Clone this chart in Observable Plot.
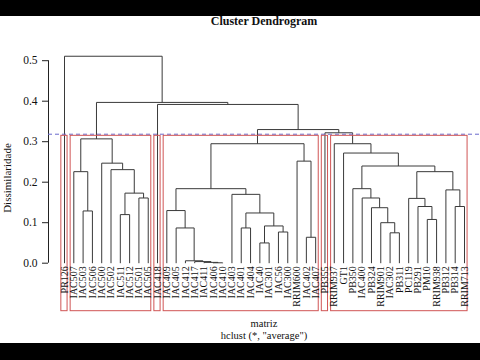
<!DOCTYPE html>
<html>
<head>
<meta charset="utf-8">
<script src="https://cdn.jsdelivr.net/npm/d3@7"></script>
<script src="https://cdn.jsdelivr.net/npm/@observablehq/plot@0.6"></script>
<style>
  html, body { margin: 0; padding: 0; background: #fff; }
  #wrap { position: relative; width: 480px; height: 360px; overflow: hidden; background: #fff; font-family: "Liberation Serif", "DejaVu Serif", serif; color: #111; }
  #chart { position: absolute; left: 0; top: 0; }
  .t { position: absolute; white-space: nowrap; line-height: 1; }
  .bar { position: absolute; left: 0; width: 480px; background: #000; }
</style>
</head>
<body>
<div id="wrap">
  <div id="chart"></div>
  <div class="t" style="left:164px;width:200px;text-align:center;top:15px;font-size:12px;font-weight:bold;">Cluster Dendrogram</div>
  <div class="t" style="left:164px;width:200px;text-align:center;top:319px;font-size:10.5px;">matriz</div>
  <div class="t" style="left:164px;width:200px;text-align:center;top:330.5px;font-size:10.5px;">hclust (*, "average")</div>
  <div class="t" style="left:6.5px;top:178px;font-size:11px;transform:translate(-50%,-50%) rotate(-90deg);">Dissimilaridade</div>
  <div class="bar" style="top:0;height:16px;"></div>
  <div class="bar" style="top:343px;height:17px;"></div>
</div>
<script>
// Leaf labels in dendrogram order
const leaves = ["PR126","IAC507","IAC503","IAC506","IAC500","IAC502","IAC511","IAC512","IAC501","IAC505",
  "IAC418","IAC409","IAC405","IAC412","IAC417","IAC411","IAC406","IAC410","IAC403","IAC401",
  "IAC404","IAC40","IAC301","IAC56","IAC300","RRIM600","IAC402","IAC407","PB355","RRIM937",
  "GT1","PB350","IAC400","PB324","RRIM901","IAC302","PB311","PC119","PB291","PM10",
  "RRIM938","PB312","PB314","RRIM713"];

// Merge table (R hclust style): negative = leaf index (1-based), positive = earlier merge row (1-based)
const mergeLeft  = [-17,-16,-15,-14,-22,-27,-36,-24,-13,-20, 5,-35,-40,-7, 10,-3,-12,-34,-39,-43,-38,-33,-9,-19,14,-42,-32,17,-2, 21,-6, 27,-5,-26,-31,28,-30,29,-29,36,-11,38,-1];
const mergeRight = [-18,  1,  2,  3,-23,-28,-37,-25,  4,-21, 8,  7,-41,-8,11,-4,  9, 12, 13,-44, 19, 18,-10,15,23, 20, 22,24,16, 26,25, 30,31,  6, 32,34, 35,33, 37,39, 40,41,42];
const mergeHeight = [0.001,0.002,0.004,0.006,0.050,0.064,0.075,0.077,0.087,0.087,
  0.092,0.100,0.108,0.120,0.124,0.129,0.130,0.137,0.140,0.140,
  0.160,0.161,0.161,0.170,0.173,0.181,0.184,0.184,0.226,0.226,
  0.231,0.240,0.247,0.252,0.272,0.295,0.295,0.307,0.322,0.330,
  0.392,0.397,0.511];

const yTicks = [0, 0.1, 0.2, 0.3, 0.4, 0.5];
const cutK = 6;          // rect.hclust(k = 6)
const cutLine = 0.3185;  // abline(h = ...)

// ---- layout (R plot.hclust conventions) ----
const n = leaves.length;
const usrLeft = 1 - 0.04 * (n - 1), usrRight = n + 0.04 * (n - 1);
const usrBottom = -0.1185;
const nodeX = [], lo = [], hi = [];
const segs = [];
function info(ref) {
  if (ref < 0) return {x: -ref, h: 0, lo: -ref, hi: -ref};
  const i = ref - 1;
  return {x: nodeX[i], h: mergeHeight[i], lo: lo[i], hi: hi[i]};
}
mergeHeight.forEach((h, i) => {
  const L = info(mergeLeft[i]), R = info(mergeRight[i]);
  nodeX[i] = (L.x + R.x) / 2; lo[i] = L.lo; hi[i] = R.hi;
  segs.push({x1: L.x, y1: L.h, x2: L.x, y2: h});
  segs.push({x1: L.x, y1: h, x2: R.x, y2: h});
  segs.push({x1: R.x, y1: R.h, x2: R.x, y2: h});
});
// clusters for k groups
const sortedDesc = [...mergeHeight].sort((a, b) => b - a);
const splitThreshold = sortedDesc[cutK - 2];
const rectTop = (sortedDesc[cutK - 2] + sortedDesc[cutK - 1]) / 2;
const clusters = [];
(function walk(ref) {
  if (ref > 0 && mergeHeight[ref - 1] >= splitThreshold) {
    walk(mergeLeft[ref - 1]); walk(mergeRight[ref - 1]);
  } else {
    const I = info(ref);
    clusters.push({x1: I.lo - 0.34, x2: I.hi + 0.33, y1: usrBottom, y2: rectTop});
  }
})(mergeHeight.length);

const leafData = leaves.map((name, i) => ({name, x: i + 1}));

const chart = Plot.plot({
  width: 480, height: 360,
  marginLeft: 48, marginRight: 0, marginTop: 0, marginBottom: 0,
  x: {domain: [usrLeft, usrRight], axis: null},
  y: {domain: [0, 0.5], range: [262.7, 60.2]},
  style: {fontFamily: "Liberation Serif, DejaVu Serif, serif", background: "transparent", color: "#111"},
  marks: [
    Plot.ruleX([usrLeft], {y1: 0, y2: 0.5, stroke: "#222"}),
    Plot.axisY(yTicks, {anchor: "left", tickSize: 6, tickPadding: 5, tickFormat: d => d.toFixed(1), fontSize: 11.5, label: null, stroke: "#222"}),
    Plot.link(segs, {x1: "x1", y1: "y1", x2: "x2", y2: "y2", stroke: "#3a3a3a", strokeWidth: 1}),
    Plot.ruleY([cutLine], {x1: usrLeft, x2: usrRight, stroke: "#6a6acc", strokeDasharray: "4,3", strokeWidth: 1}),
    Plot.rect(clusters, {x1: "x1", x2: "x2", y1: "y1", y2: "y2", stroke: "#d05555", fill: "none", strokeWidth: 1}),
    Plot.text(leafData, {x: "x", y: 0, text: "name", rotate: -90, textAnchor: "end", dy: 3, fontSize: 10, fill: "#111"})
  ]
});
document.getElementById("chart").appendChild(chart);
</script>
</body>
</html>
